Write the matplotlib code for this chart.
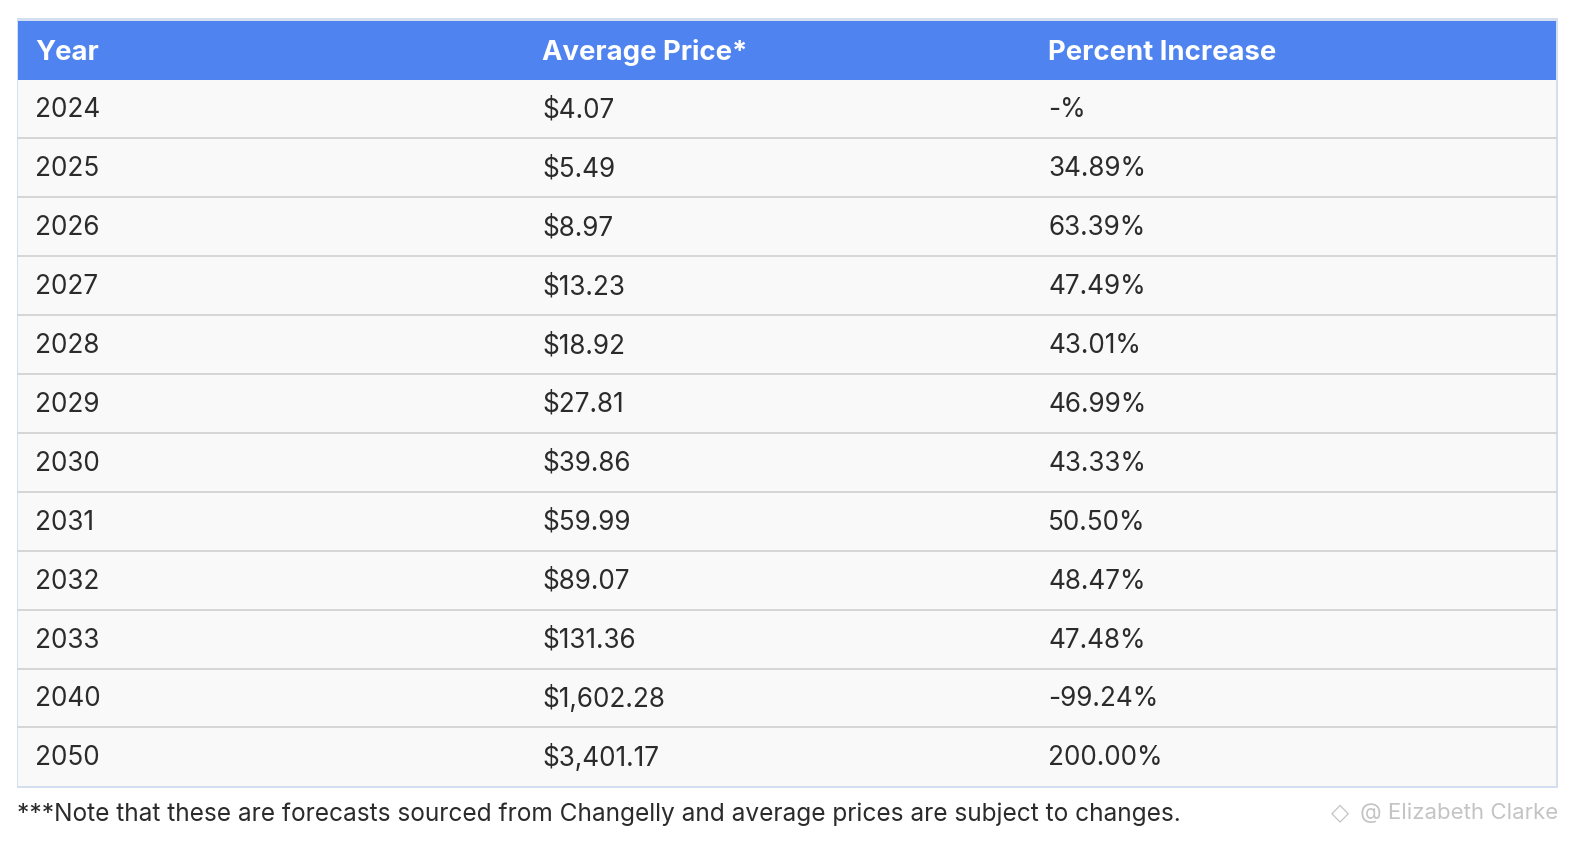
#!/usr/bin/env python3
import matplotlib as mpl
mpl.use('Agg')
import matplotlib.pyplot as plt
from matplotlib.patches import Rectangle

# table content
headers = ['Year', 'Average Price*', 'Percent Increase']
years = ['2024', '2025', '2026', '2027', '2028', '2029', '2030', '2031',
         '2032', '2033', '2040', '2050']
prices = ['$4.07', '$5.49', '$8.97', '$13.23', '$18.92', '$27.81', '$39.86',
          '$59.99', '$89.07', '$131.36', '$1,602.28', '$3,401.17']
percents = ['-%', '34.89%', '63.39%', '47.49%', '43.01%', '46.99%', '43.33%',
            '50.50%', '48.47%', '47.48%', '-99.24%', '200.00%']
note = '***Note that these are forecasts sourced from Changelly and average prices are subject to changes.'
watermark = '@ Elizabeth Clarke'

W, H = 1596, 852
fig = plt.figure(figsize=(W / 100, H / 100), dpi=100)
ax = fig.add_axes([0, 0, 1, 1])
ax.set_xlim(0, W)
ax.set_ylim(H, 0)
ax.axis('off')

font = 'Inter'
left, right = 18, 1556
top = 19
head_h = 59
row_h = 58.9
col_x = [35, 542, 1048]

# outer border
n = len(years)
bottom = top + 1.5 + head_h + n * row_h
ax.add_patch(Rectangle((left - 1.5, top - 1.5), right - left + 3, bottom - top + 3,
                       facecolor='#d3dff0', edgecolor='none', zorder=0))
# header
ax.add_patch(Rectangle((left, top + 1.5), right - left, head_h,
                       facecolor='#4f83f0', edgecolor='none', zorder=1))
for x, h in zip(col_x, headers):
    ax.text(x, top + 1.5 + head_h / 2 + 2.5, h, color='white', fontsize=19.8,
            fontweight='bold', family=font, va='center', ha='left', zorder=3)

# rows
y0 = top + 1.5 + head_h
for i, (yr, pr, pc) in enumerate(zip(years, prices, percents)):
    ry = y0 + i * row_h
    ax.add_patch(Rectangle((left, ry), right - left, row_h,
                           facecolor='#f9f9f9', edgecolor='none', zorder=1))
    if i > 0:
        ax.plot([left, right], [ry, ry], color='#d6d6d6', lw=1.4, zorder=2)
    for x, t in zip(col_x, (yr, pr, pc)):
        ax.text(x, ry + row_h / 2 + 1.5, t, color='#2b2b2b', fontsize=18.8,
                family=font, va='center', ha='left', zorder=3)

# footnote
ax.text(17, 814, note, color='#2b2b2b', fontsize=17.6, family=font,
        va='center', ha='left')

# watermark
ax.text(1340, 813, '\u25c7', color='#c4c4c4', fontsize=17, family='DejaVu Sans',
        va='center', ha='center')
ax.text(1360, 813, watermark, color='#c4c4c4', fontsize=16, family=font,
        va='center', ha='left')

fig.savefig('out.png', dpi=100, facecolor='white')
